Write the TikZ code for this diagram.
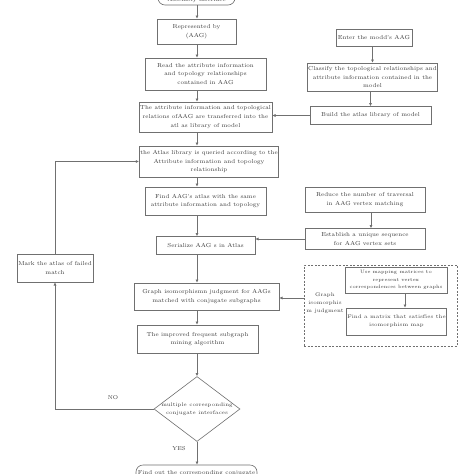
\documentclass[tikz,border=0pt]{standalone}
\usetikzlibrary{shapes.geometric,arrows.meta,calc}
\begin{document}
\begin{tikzpicture}[x=1pt,y=-1pt,
  every node/.style={font=\fontsize{5.8}{8.6}\selectfont, text=txt, align=center, inner sep=1pt},
  box/.style={draw=ln, line width=0.6pt, rectangle},
  rbox/.style={draw=ln, line width=0.6pt, rectangle, rounded corners=7pt},
  dia/.style={draw=ln, line width=0.6pt, diamond, inner sep=0pt},
  arr/.style={draw=ln, line width=0.6pt, -{Latex[length=3.2pt,width=3pt]}},
  lin/.style={draw=ln, line width=0.6pt},
  small/.style={font=\fontsize{5.2}{8}\selectfont},
  tiny/.style={font=\fontsize{4.8}{7.6}\selectfont},
  lab/.style={font=\fontsize{5.6}{8}\selectfont}]
\definecolor{ln}{HTML}{707070}
\definecolor{txt}{HTML}{3C3C3C}
\useasboundingbox (0,0) rectangle (474,474);
\fill[white] (0,0) rectangle (474,474);
\coordinate (spine) at (197,0);
% main column
\node[rbox, minimum width=77pt, minimum height=26pt] (top) at (196.5,-8) {};
\node (topt) at (196.5,0) {Assembly interface};
\node[box, minimum width=79pt, minimum height=25pt] (rep) at (196.5,31.5) {Represented by\\(AAG)};
\node[box, minimum width=121pt, minimum height=32pt] (read) at (205.5,74) {Read the attribute information\\and topology relationships\\contained in AAG};
\node[box, minimum width=121pt, minimum height=30pt] (trans) at (205.5,117) {The attribute information and topological\\relations ofAAG are transferred into the\\atl as library of model};
\node[box, minimum width=128pt, minimum height=31pt] (query) at (209,161.5) {the Atlas library is queried according to the\\Attribute information and topology\\relationship};
\node[box, minimum width=121pt, minimum height=28pt] (find) at (205.5,201) {Find AAG's atlas with the same\\attribute information and topology};
\node[box, minimum width=99pt, minimum height=18pt] (serial) at (205.5,245.5) {Serialize AAG s in Atlas};
\node[box, minimum width=145pt, minimum height=27pt] (graph) at (206.5,296.5) {Graph isomorphismn judgment for AAGs\\matched with conjugate subgraphs};
\node[box, minimum width=121pt, minimum height=28pt] (impr) at (197.5,339) {The improved frequent subgraph\\mining algorithm};
\node[dia, minimum width=86pt, minimum height=65pt] (dec) at (197,409) {};
\node[small] (dect) at (197,409) {multiple corresponding\\conjugate interfaces};
\node[rbox, minimum width=121pt, minimum height=26pt] (endn) at (196.5,478) {};
\node (endt) at (196.5,473.5) {Find out the corresponding conjugate};
% right column
\node[box, minimum width=76pt, minimum height=17pt] (enter) at (374,37.5) {Enter the modd's AAG};
\node[box, minimum width=125pt, minimum height=28pt] (classify) at (372.5,77) {Classify the topological relationships and\\attribute information contained in the\\model};
\node[box, minimum width=121pt, minimum height=18pt] (build) at (370.5,115.5) {Build the atlas library of model};
\node[box, minimum width=120pt, minimum height=25pt] (reduce) at (365,199.5) {Reduce the number of traversal\\in AAG vertex matching};
\node[box, minimum width=120pt, minimum height=21pt] (estab) at (365,239) {Establish a unique sequence\\for AAG vertex sets};
\node[draw=ln, line width=0.6pt, dashed, dash pattern=on 2pt off 1.5pt, minimum width=153pt, minimum height=81pt] (dash) at (380.5,305.5) {};
\node[small] (gij) at (325,303) {Graph\\isomorphis\\m judgment};
\node[box, tiny, minimum width=102pt, minimum height=26pt] (usem) at (396,280) {Use mapping matrices to\\represent vertex\\correspondences between graphs};
\node[box, small, minimum width=97pt, minimum height=27pt] (findm) at (396.5,321.5) {Find a matrix that satisfies the\\isomorphism map};
% left
\node[box, minimum width=76pt, minimum height=28pt] (mark) at (55,268) {Mark the atlas of failed\\match};
\node[lab] (no) at (113,398) {NO};
\node[lab] (yes) at (179,449) {YES};
% connectors main
\draw[arr] (top.south -| spine) -- (rep.north -| spine);
\draw[arr] (rep.south -| spine) -- (read.north -| spine);
\draw[arr] (read.south -| spine) -- (trans.north -| spine);
\draw[arr] (trans.south -| spine) -- (query.north -| spine);
\draw[arr] (query.south -| spine) -- (find.north -| spine);
\draw[arr] (find.south -| spine) -- (serial.north -| spine);
\draw[arr] (serial.south -| spine) -- (graph.north -| spine);
\draw[arr] (graph.south -| spine) -- (impr.north -| spine);
\draw[arr] (impr.south -| spine) -- (dec.north);
\draw[arr] (dec.south) -- (endn.north -| dec.south);
% right connectors
\draw[arr] (enter.south -| classify) -- (classify.north);
\draw[arr] (classify.south -| build) -- (build.north);
\draw[arr] (build.west) -- (build.west -| trans.east);
\draw[arr] ([xshift=6pt]reduce.south) -- ([xshift=6pt]reduce.south |- estab.north);
\draw[arr] (estab.west) -- (estab.west -| serial.east);
\draw[arr] ([xshift=9pt]usem.south) -- ([xshift=9pt]usem.south |- findm.north);
\draw[arr] (dash.west |- 0,298) -- (graph.east |- 0,298);
% loop back
\draw[arr] (dec.west) -| (mark.south);
\draw[arr] (mark.north) |- (query.west);
\end{tikzpicture}
\end{document}
